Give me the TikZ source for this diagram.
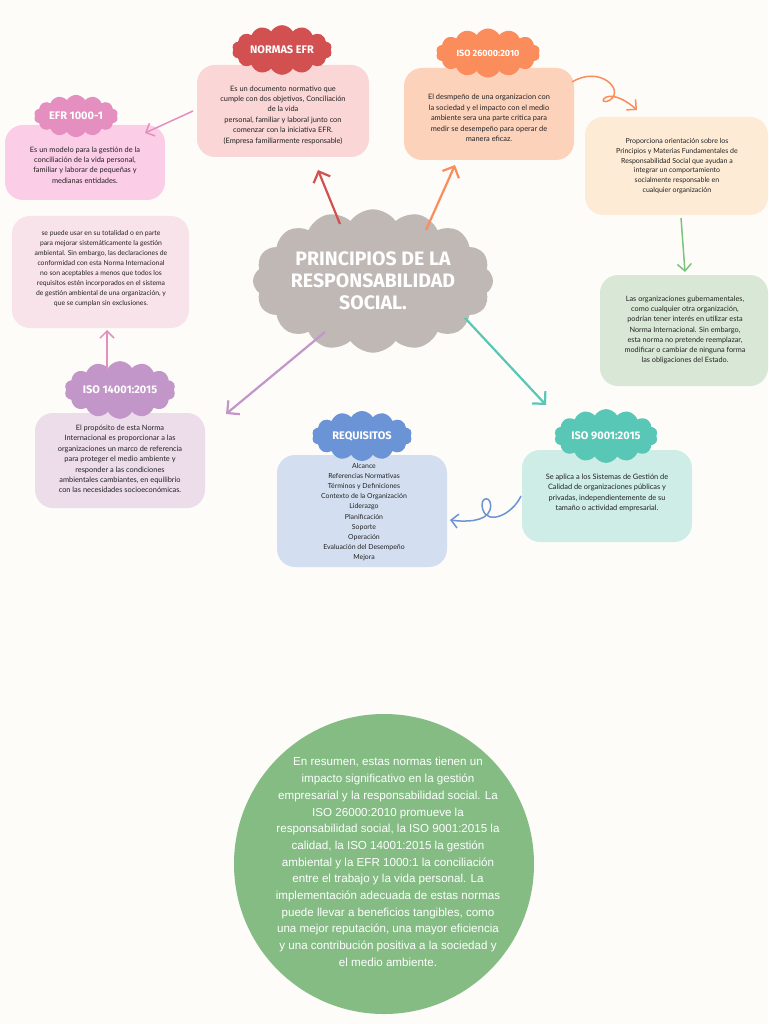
\documentclass[tikz,border=0pt]{standalone}
\usepackage{fontspec}
\setmainfont{Lato}
\newfontfamily\hd{Fira Sans}
\newfontfamily\ar{Liberation Sans}
\usetikzlibrary{shapes.symbols,arrows.meta}
\definecolor{bg}{HTML}{FDFCF8}
\definecolor{cred}{HTML}{D35050}\definecolor{bred}{HTML}{FAD6D6}
\definecolor{cpink}{HTML}{E48FC0}\definecolor{bpink}{HTML}{FCCDE6}
\definecolor{corg}{HTML}{FB8C5C}\definecolor{borg}{HTML}{FDD2BB}
\definecolor{bcream}{HTML}{FDEBD6}\definecolor{bgreen}{HTML}{D9E8D6}
\definecolor{cteal}{HTML}{58C7B6}\definecolor{bteal}{HTML}{CDEDE6}
\definecolor{cblue}{HTML}{6B94D6}\definecolor{bblue}{HTML}{D3DFF0}
\definecolor{cpur}{HTML}{C396C9}\definecolor{bpur}{HTML}{EDDDEB}
\definecolor{blp}{HTML}{F9E3EA}\definecolor{cgray}{HTML}{C0B8B4}
\definecolor{cgreen}{HTML}{84BC84}\definecolor{txt}{HTML}{222222}
\definecolor{lgreen}{HTML}{7CC47C}
\begin{document}
\begin{tikzpicture}[x=1pt,y=-1pt,
 cl/.style={cloud,cloud puffs=14,cloud puff arc=120,aspect=2.4,inner sep=1pt,text=white,font=\hd\bfseries\fontsize{11}{13}\selectfont},
 bx/.style={rounded corners=18pt,align=center,text=txt,font=\fontsize{7.4}{10.4}\selectfont,inner sep=0pt},
 ar/.style={line width=2.2pt,-{Straight Barb[length=9pt,width=18pt]}},
 thin/.style={line width=1.5pt,-{Straight Barb[length=7pt,width=14pt]}}]
\fill[bg] (0,0) rectangle (768,1024);
% boxes
\fill[bred,rounded corners=18pt] (197,65) rectangle (369,157);
\node[bx] (nb) at (283,115) {Es un documento normativo que\\cumple con dos objetivos, Conciliación\\de la vida\\personal, familiar y laboral junto con\\comenzar con la iniciativa EFR.\\(Empresa familiarmente responsable)};
\node[cl,fill=cred,minimum width=100pt,minimum height=44pt] (nc) at (282,50) {NORMAS EFR};
\fill[bpink,rounded corners=18pt] (5,125) rectangle (165,200);
\node[bx] (eb) at (85,165) {Es un modelo para la gestión de la\\conciliación de la vida personal,\\familiar y laborar de pequeñas y\\medianas entidades.};
\node[cl,fill=cpink,minimum width=84pt,minimum height=36pt] (ec) at (76,116) {EFR 1000-1};
\fill[borg,rounded corners=18pt] (404,68) rectangle (574,160);
\node[bx] (ob) at (489,118) {El desmpeño de una organizacion con\\la sociedad y el impacto con el medio\\ambiente sera una parte critica para\\medir se desempeño para operar de\\manera eficaz.};
\node[cl,fill=corg,minimum width=104pt,minimum height=40pt,font=\hd\bfseries\fontsize{9}{11}\selectfont] (oc) at (488,53) {ISO 26000:2010};
\fill[bcream,rounded corners=18pt] (585,117) rectangle (768,215);
\node[bx,font=\fontsize{7}{9.8}\selectfont] (pb) at (677,166) {Proporciona orientación sobre los\\Principios y Materias Fundamentales de\\Responsabilidad Social que ayudan a\\integrar un comportamiento\\socialmente responsable en\\cualquier organización};
\fill[bgreen,rounded corners=18pt] (600,275) rectangle (768,386);
\node[bx,font=\fontsize{7.3}{10.2}\selectfont] (gb) at (685,330) {Las organizaciones gubernamentales,\\como cualquier otra organización,\\podrían tener interés en utilizar esta\\Norma Internacional. Sin embargo,\\esta norma no pretende reemplazar,\\modificar o cambiar de ninguna forma\\las obligaciones del Estado.};
\fill[bteal,rounded corners=18pt] (522,450) rectangle (692,542);
\node[bx] (tb) at (607,493) {Se aplica a los Sistemas de Gestión de\\Calidad de organizaciones públicas y\\privadas, independientemente de su\\tamaño o actividad empresarial.};
\node[cl,fill=cteal,minimum width=100pt,minimum height=46pt] (tc) at (606,436) {ISO 9001:2015};
\fill[bblue,rounded corners=18pt] (277,455) rectangle (447,567);
\node[bx,font=\fontsize{6.9}{10.2}\selectfont] (rb) at (364,512) {Alcance\\Referencias Normativas\\Términos y Definiciones\\Contexto de la Organización\\Liderazgo\\Planificación\\Soporte\\Operación\\Evaluación del Desempeño\\Mejora};
\node[cl,fill=cblue,minimum width=100pt,minimum height=50pt] (rc) at (362,436) {REQUISITOS};
\fill[bpur,rounded corners=18pt] (35,413) rectangle (205,508);
\node[bx] (pub) at (120,459) {El propósito de esta Norma\\Internacional es proporcionar a las\\organizaciones un marco de referencia\\para proteger el medio ambiente y\\responder a las condiciones\\ambientales cambiantes, en equilibrio\\con las necesidades socioeconómicas.};
\node[cl,fill=cpur,minimum width=100pt,minimum height=42pt] (puc) at (120,390) {ISO 14001:2015};
\fill[blp,rounded corners=18pt] (12,216) rectangle (189,328);
\node[bx,font=\fontsize{6.8}{10}\selectfont] (lb) at (101,269) {se puede usar en su totalidad o en parte\\para mejorar sistemáticamente la gestión\\ambiental. Sin embargo, las declaraciones de\\conformidad con esta Norma Internacional\\no son aceptables a menos que todos los\\requisitos estén incorporados en el sistema\\de gestión ambiental de una organización, y\\que se cumplan sin exclusiones.};
% title
\node[cloud,cloud puffs=16,cloud puff arc=110,aspect=1.9,fill=cgray,minimum width=226pt,minimum height=118pt,align=center,text=white,font=\hd\bfseries\fontsize{19.5}{22}\selectfont,inner sep=0pt] (t) at (373,281) {PRINCIPIOS DE LA\\RESPONSABILIDAD\\SOCIAL.};
% connectors
\coordinate (a1) at (340,224); \coordinate (a2) at (318,170);
\draw[ar,cred] (a1) -- (a2);
\coordinate (b1) at (426,230); \coordinate (b2) at (455,165);
\draw[ar,corg] (b1) -- (b2);
\coordinate (c1) at (325,332); \coordinate (c2) at (226,414);
\draw[ar,cpur] (c1) -- (c2);
\coordinate (d1) at (465,318); \coordinate (d2) at (546,405);
\draw[ar,cteal] (d1) -- (d2);
\coordinate (e1) at (193,111); \coordinate (e2) at (145,133);
\draw[thin,cpink] (e1) -- (e2);
\coordinate (f1) at (107,370); \coordinate (f2) at (107,330);
\draw[thin,cpink] (f1) -- (f2);
\coordinate (g1) at (572,82); \coordinate (g2) at (637,110);
\draw[thin,corg] (g1) .. controls (600,65) and (625,90) .. (610,100) .. controls (595,108) and (605,82) .. (g2);
\coordinate (h1) at (681,218); \coordinate (h2) at (685,272);
\draw[thin,lgreen] (h1) -- (h2);
\coordinate (i1) at (521,496); \coordinate (i2) at (450,520);
\draw[thin,cblue] (i1) .. controls (512,515) and (488,525) .. (483,510) .. controls (478,495) and (494,495) .. (490,510) .. controls (486,522) and (465,522) .. (i2);
% summary
\node[circle,fill=cgreen,minimum size=300pt,inner sep=0pt] (s) at (384,864) {};
\node[align=center,text=white,font=\ar\fontsize{11.6}{16.7}\selectfont] (st) at (388,862) {En resumen, estas normas tienen un\\impacto significativo en la gestión\\empresarial y la responsabilidad social. La\\ISO 26000:2010 promueve la\\responsabilidad social, la ISO 9001:2015 la\\calidad, la ISO 14001:2015 la gestión\\ambiental y la EFR 1000:1 la conciliación\\entre el trabajo y la vida personal. La\\implementación adecuada de estas normas\\puede llevar a beneficios tangibles, como\\una mejor reputación, una mayor eficiencia\\y una contribución positiva a la sociedad y\\el medio ambiente.};
\end{tikzpicture}
\end{document}
